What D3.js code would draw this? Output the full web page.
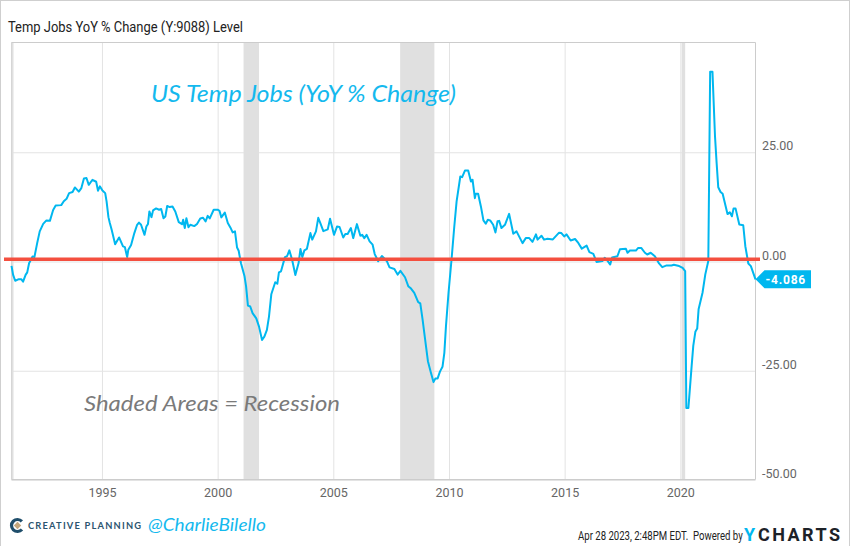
<!DOCTYPE html>
<html>
<head>
<meta charset="utf-8">
<script src="https://d3js.org/d3.v7.min.js"></script>
<style>
  html, body { margin: 0; padding: 0; background: #fff; }
  svg { display: block; font-family: Roboto, sans-serif; }
</style>
</head>
<body>
<div id="chart"></div>
<script>
var seriesDates = [
  1991.09,1991.16,1991.25,1991.41,1991.51,1991.59,1991.70,1991.77,1991.85,1992.00,1992.08,1992.20,1992.31,1992.46,1992.60,1992.75,
  1992.89,1993.00,1993.24,1993.35,1993.47,1993.58,1993.73,1993.83,1994.00,1994.11,1994.22,1994.33,1994.43,1994.59,1994.75,1994.83,
  1994.91,1995.02,1995.14,1995.20,1995.28,1995.34,1995.42,1995.57,1995.74,1995.91,1995.99,1996.09,1996.14,1996.26,1996.40,1996.52,
  1996.60,1996.69,1996.84,1996.92,1996.99,1997.05,1997.14,1997.21,1997.34,1997.47,1997.56,1997.66,1997.74,1997.82,1997.93,1998.05,
  1998.17,1998.32,1998.46,1998.51,1998.58,1998.65,1998.74,1998.82,1998.99,1999.11,1999.25,1999.37,1999.48,1999.57,1999.66,1999.83,
  2000.00,2000.08,2000.16,2000.31,2000.44,2000.55,2000.65,2000.75,2000.84,2000.91,2000.98,2001.01,2001.16,2001.23,2001.31,2001.41,
  2001.51,2001.67,2001.79,2001.92,2002.02,2002.13,2002.22,2002.32,2002.49,2002.58,2002.65,2002.74,2002.91,2003.00,2003.10,2003.22,
  2003.36,2003.50,2003.58,2003.66,2003.75,2003.86,2004.01,2004.09,2004.25,2004.35,2004.44,2004.57,2004.76,2004.86,2005.03,2005.16,
  2005.27,2005.43,2005.52,2005.62,2005.76,2005.86,2006.02,2006.17,2006.25,2006.34,2006.44,2006.57,2006.70,2006.79,2006.94,2007.10,
  2007.32,2007.43,2007.64,2007.78,2007.90,2008.10,2008.24,2008.36,2008.50,2008.67,2008.76,2008.86,2008.96,2009.09,2009.22,2009.33,
  2009.41,2009.51,2009.61,2009.72,2009.80,2009.87,2009.98,2010.11,2010.23,2010.33,2010.49,2010.57,2010.69,2010.83,2010.95,2011.02,
  2011.12,2011.16,2011.26,2011.38,2011.49,2011.59,2011.68,2011.78,2011.91,2012.01,2012.10,2012.17,2012.27,2012.42,2012.60,2012.78,
  2012.92,2013.18,2013.32,2013.47,2013.61,2013.76,2013.83,2014.00,2014.11,2014.26,2014.49,2014.76,2014.86,2014.98,2015.08,2015.26,
  2015.45,2015.59,2015.74,2015.95,2016.07,2016.24,2016.38,2016.64,2016.73,2016.84,2016.97,2017.05,2017.28,2017.39,2017.65,2017.72,
  2017.82,2018.08,2018.18,2018.31,2018.47,2018.57,2018.72,2018.90,2019.08,2019.22,2019.41,2019.62,2019.72,2019.95,2020.10,2020.21,
  2020.26,2020.35,2020.49,2020.56,2020.65,2020.73,2020.79,2020.96,2021.08,2021.21,2021.29,2021.39,2021.50,2021.57,2021.64,2021.74,
  2021.83,2022.04,2022.14,2022.23,2022.30,2022.39,2022.55,2022.72,2022.81,2022.94,2023.05,2023.25
];
var seriesValues = [
  -1.0,-3.05,-4.4,-4.05,-4.05,-4.6,-3.05,-2.5,-0.4,1.15,1.0,4.2,6.9,8.6,9.4,9.3,
  11.8,12.8,12.9,13.8,14.35,15.65,15.9,16.95,16.0,16.8,19.0,19.1,17.55,18.7,18.25,16.2,
  17.2,16.25,15.65,13.75,10.15,8.8,7.25,3.95,5.5,3.45,3.3,1.0,2.7,3.8,6.5,8.4,
  8.9,8.4,6.1,8.0,8.6,11.45,10.15,11.7,12.15,11.85,12.0,9.9,10.3,12.7,12.45,12.6,
  11.45,9.0,8.55,9.55,7.65,9.9,7.85,8.4,8.1,8.6,9.85,10.0,9.15,10.45,9.85,11.85,
  11.85,11.6,10.1,11.2,8.8,7.8,6.65,6.9,3.2,2.45,0.4,-0.4,-3.3,-5.7,-10.1,-10.3,
  -11.8,-13.0,-14.9,-17.95,-17.2,-15.65,-12.6,-7.5,-4.75,-5.1,-2.5,-2.25,1.0,1.2,2.55,0.4,
  -3.1,-0.35,2.85,1.0,2.55,2.9,6.5,5.0,6.9,10.0,8.8,6.95,7.35,9.8,6.1,8.0,
  7.9,5.5,6.3,6.3,7.65,5.35,8.55,5.9,6.1,5.35,6.1,4.6,3.85,1.7,0.05,1.25,
  0.05,-1.35,-1.7,-3.0,-2.15,-3.6,-5.65,-6.2,-7.2,-9.3,-9.6,-13.3,-17.45,-22.8,-25.45,-27.6,
  -26.8,-26.75,-25.2,-24.1,-20.9,-14.8,-7.2,0.4,8.0,13.75,19.45,19.3,20.8,20.8,18.3,18.7,
  14.5,15.5,15.5,12.6,9.4,8.65,9.55,9.4,8.4,6.65,9.2,9.3,7.65,8.4,10.9,6.35,
  6.9,4.2,5.35,5.35,4.5,6.2,5.0,5.9,5.0,5.2,5.05,6.6,6.5,5.75,6.2,4.8,
  5.15,4.25,2.95,3.65,2.15,1.75,-0.1,0.1,0.85,0.25,-0.7,0.9,1.2,2.8,2.9,2.0,
  2.5,2.5,3.1,3.1,2.0,1.6,2.0,1.2,-0.45,-1.3,-0.9,-0.9,-0.75,-1.05,-1.45,-2.2,
  -33.5,-33.5,-23.9,-19.3,-16.1,-15.35,-10.95,-7.15,-2.95,0.1,43.4,43.4,28.6,22.5,17.0,15.9,
  15.5,10.85,11.25,10.35,12.1,12.1,8.45,8.3,3.5,-0.45,-1.05,-4.086
];
var recessionStarts = [2001.12, 2007.89, 2020.06];
var recessionEnds = [2001.79, 2009.37, 2020.21];
var xTickValues = [1995, 2000, 2005, 2010, 2015, 2020];
var xTickLabels = ['1995', '2000', '2005', '2010', '2015', '2020'];
var yTickValues = [25, 0, -25, -50];
var yTickLabels = ['25.00', '0.00', '-25.00', '-50.00'];
var referenceValue = 0.5;
var lastValueLabel = '-4.086';

var WIDTH = 850,
    HEIGHT = 546,
    BLUE = '#00b7ef',
    RED = '#f44f3f',
    left = 11.5,
    right = 755.5,
    top_ = 43,
    bottom = 480;

var svg = d3.select('#chart')
  .append('svg')
  .attr('width', WIDTH)
  .attr('height', HEIGHT);

svg.append('rect')
  .attr('x', 0.5).attr('y', 0.5)
  .attr('width', WIDTH - 1).attr('height', HEIGHT + 4)
  .attr('fill', '#fff')
  .attr('stroke', '#cfcfcf');

var x = d3.scaleLinear().domain([1991.09, 2023.25]).range([left, right]);
var y = d3.scaleLinear().domain([-50, 50]).range([bottom, top_]);

var recessions = recessionStarts.map(function (d, i) {
  return { start: d, end: recessionEnds[i] };
});

// vertical grid
var xAxis = d3.axisBottom(x)
  .tickValues(xTickValues)
  .tickFormat(function (d, i) { return xTickLabels[i]; })
  .tickSize(-(bottom - top_))
  .tickPadding(9);

var xG = svg.append('g')
  .attr('transform', 'translate(0,' + (bottom - 0.5) + ')')
  .call(xAxis);
xG.select('.domain').remove();
xG.selectAll('line').attr('stroke', '#e3e3e3').attr('stroke-width', 1);
xG.selectAll('text')
  .attr('fill', '#666')
  .style('font-family', 'Roboto, sans-serif')
  .style('font-size', '12.5px');

// horizontal grid, labels sit above their line
var yAxis = d3.axisRight(y)
  .tickValues(yTickValues)
  .tickFormat(function (d, i) { return yTickLabels[i]; })
  .tickSize(0);

var yG = svg.append('g')
  .attr('transform', 'translate(' + right + ',0)')
  .call(yAxis);
yG.select('.domain').remove();
yG.selectAll('line')
  .attr('x1', -(right - left))
  .attr('x2', 0)
  .attr('stroke', '#e3e3e3')
  .attr('stroke-width', 1);
yG.selectAll('text')
  .attr('x', 6.5)
  .attr('dy', '-0.2em')
  .attr('fill', '#666')
  .style('font-family', 'Roboto, sans-serif')
  .style('font-size', '12.5px');

svg.selectAll('rect.recession')
  .data(recessions)
  .enter()
  .append('rect')
  .attr('class', 'recession')
  .attr('x', function (d) { return x(d.start); })
  .attr('y', top_)
  .attr('width', function (d) { return x(d.end) - x(d.start); })
  .attr('height', bottom - top_)
  .attr('fill', '#e0e0e0');

// plot frame
svg.append('path')
  .attr('d', 'M' + left + ',' + (bottom - 0.5) + 'V' + (top_ - 0.5) + 'H' + right + 'V' + (bottom - 0.5) + 'Z')
  .attr('fill', 'none')
  .attr('stroke', '#cccccc');
svg.append('line')
  .attr('x1', left + 1).attr('x2', left + 1)
  .attr('y1', top_).attr('y2', bottom - 1)
  .attr('stroke', '#e0e0e0')
  .attr('stroke-width', 2);

var line = d3.line()
  .x(function (d, i) { return x(seriesDates[i]); })
  .y(function (d) { return y(d); });

svg.append('path')
  .datum(seriesValues)
  .attr('d', line)
  .attr('fill', 'none')
  .attr('stroke', BLUE)
  .attr('stroke-width', 2)
  .attr('stroke-linejoin', 'round');

svg.append('line')
  .attr('x1', left - 7.5)
  .attr('x2', right + 4.5)
  .attr('y1', y(referenceValue))
  .attr('y2', y(referenceValue))
  .attr('stroke', RED)
  .attr('stroke-width', 3.5);

// last value flag
var lastY = y(seriesValues[seriesValues.length - 1]);
svg.append('path')
  .attr('d', 'M' + right + ',' + lastY + 'l9,-9h46.5v18h-46.5z')
  .attr('fill', BLUE);
svg.append('text')
  .attr('x', right + 10)
  .attr('y', lastY + 4.5)
  .attr('fill', '#fff')
  .style('font-size', '12px')
  .style('font-weight', 700)
  .style('letter-spacing', '0.8px')
  .text(lastValueLabel);

// title
svg.append('text')
  .attr('x', 8)
  .attr('y', 32)
  .attr('fill', '#222')
  .style('font-size', '15px')
  .attr('textLength', 235)
  .attr('lengthAdjust', 'spacingAndGlyphs')
  .text('Temp Jobs YoY % Change (Y:9088) Level');

// hand written notes
svg.append('text')
  .attr('x', 151)
  .attr('y', 102)
  .attr('fill', '#14b9ee')
  .style('font-family', 'Lato, sans-serif')
  .style('font-style', 'italic')
  .style('font-size', '23px')
  .attr('textLength', 305)
  .attr('lengthAdjust', 'spacingAndGlyphs')
  .text('US Temp Jobs (YoY % Change)');

svg.append('text')
  .attr('x', 84)
  .attr('y', 411)
  .attr('fill', '#7a7a7a')
  .style('font-family', 'Lato, sans-serif')
  .style('font-style', 'italic')
  .style('font-size', '22px')
  .attr('textLength', 256)
  .attr('lengthAdjust', 'spacingAndGlyphs')
  .text('Shaded Areas = Recession');

// footer left
var logo = svg.append('g').attr('transform', 'translate(17.5,525.5)');
logo.append('path')
  .attr('d', d3.arc()({ innerRadius: 4.4, outerRadius: 7.6, startAngle: 2.3, endAngle: 7.1 }))
  .attr('fill', '#1f4e6b');
logo.append('rect')
  .attr('x', -2.6).attr('y', -2.6)
  .attr('width', 5.2).attr('height', 5.2)
  .attr('transform', 'rotate(45)')
  .attr('fill', '#c4a77d');

svg.append('text')
  .attr('x', 28)
  .attr('y', 529)
  .attr('fill', '#2b5470')
  .style('font-family', 'Lato, sans-serif')
  .style('font-size', '9.3px')
  .style('font-weight', 700)
  .attr('textLength', 113)
  .text('CREATIVE PLANNING');

svg.append('text')
  .attr('x', 148)
  .attr('y', 531)
  .attr('fill', '#14b9ee')
  .style('font-family', 'Lato, sans-serif')
  .style('font-style', 'italic')
  .style('font-size', '17px')
  .attr('textLength', 118)
  .attr('lengthAdjust', 'spacingAndGlyphs')
  .text('@CharlieBilello');

// footer right, squeezed to the reference width with a transform
var stamp = svg.append('text')
  .attr('fill', '#222')
  .attr('xml:space', 'preserve')
  .style('font-size', '12.5px')
  .text('Apr 28 2023, 2:48PM EDT.  Powered by');
var stampScale = 165 / stamp.node().getComputedTextLength();
stamp.attr('transform', 'translate(578,540) scale(' + stampScale + ',1)');

svg.append('text')
  .attr('x', 744)
  .attr('y', 541)
  .attr('fill', BLUE)
  .style('font-size', '18px')
  .style('font-weight', 700)
  .text('Y');

svg.append('text')
  .attr('x', 758)
  .attr('y', 541)
  .attr('fill', '#1d2228')
  .style('font-size', '18px')
  .style('font-weight', 700)
  .attr('textLength', 82)
  .text('CHARTS');
</script>
</body>
</html>
